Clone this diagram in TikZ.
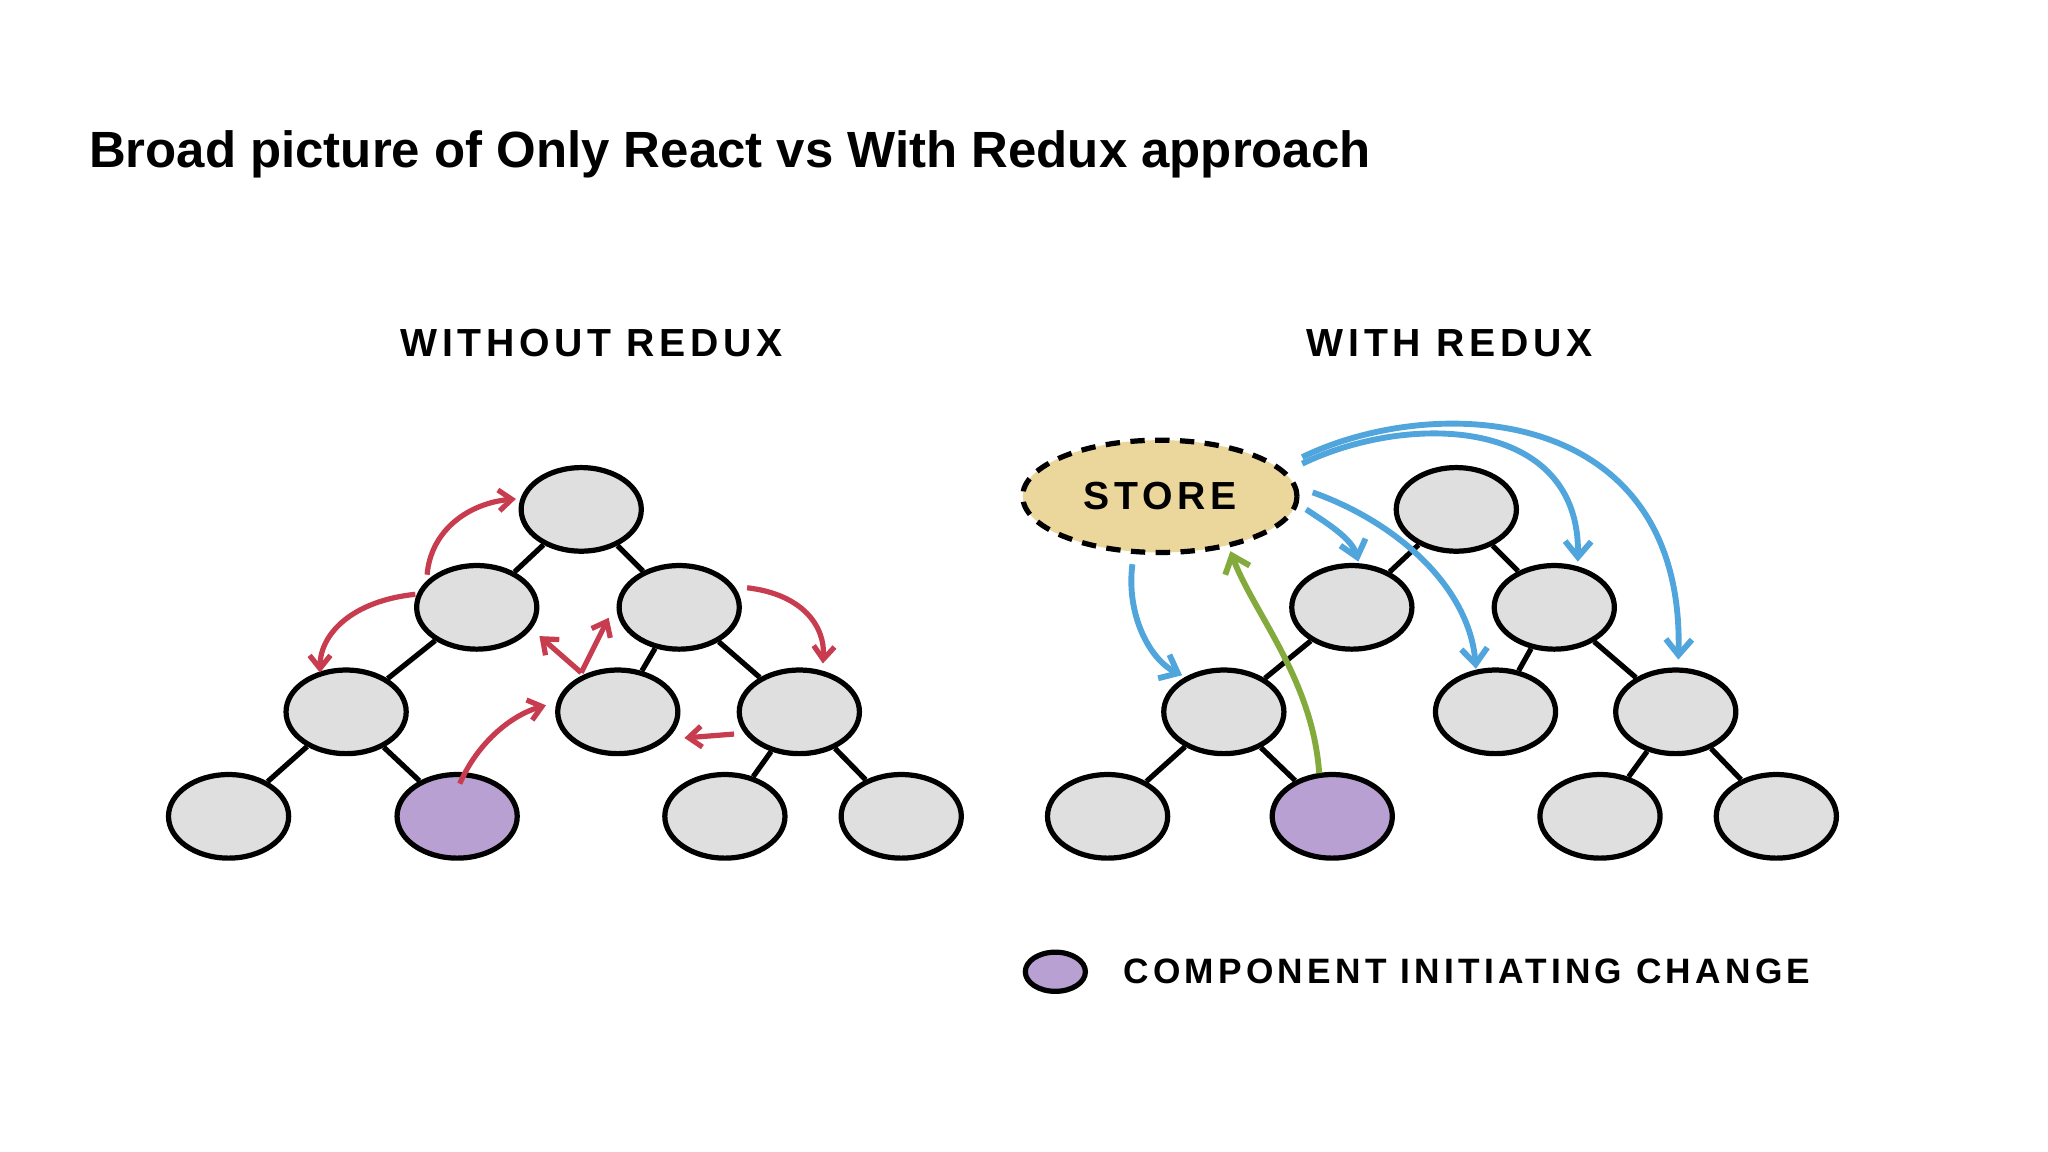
\documentclass[tikz,border=0pt]{standalone}
\usepackage{fontspec}
\setmainfont{Liberation Sans}
\usetikzlibrary{arrows.meta,shapes.geometric}
\definecolor{lav}{RGB}{185,160,210}
\begin{document}
\begin{tikzpicture}[x=1pt,y=-1pt,
 nd/.style={draw=black,line width=4pt,fill=gray!25,ellipse,minimum width=92pt,minimum height=64pt,inner sep=0pt},
 pu/.style={nd,fill=lav},
 ed/.style={line width=4pt},
 ra/.style={draw={rgb,255:red,200;green,60;blue,80},line width=4pt,-{Straight Barb[length=10pt,width=16pt]}},
 ba/.style={draw={rgb,255:red,80;green,165;blue,220},line width=4.5pt,-{Straight Barb[length=12pt,width=20pt]}},
 ga/.style={draw={rgb,255:red,130;green,170;blue,60},line width=4.5pt,-{Straight Barb[length=12pt,width=20pt]}},
 lab/.style={font=\bfseries\fontsize{30}{34}\selectfont\addfontfeature{LetterSpace=12}}]
\useasboundingbox (0,0) rectangle (1568,882);
\node[anchor=base west,inner sep=0pt,font=\bfseries\fontsize{39}{44}\selectfont] (title) at (68,128) {Broad picture of Only React vs With Redux approach};
\node[lab] (t1) at (453,263) {WITHOUT REDUX};
\node[lab] (t2) at (1110,263) {WITH REDUX};
% left tree
\node[nd] (a) at (445,390) {};
\node[nd] (b) at (365,465) {};
\node[nd] (c) at (520,465) {};
\node[nd] (d) at (265,545) {};
\node[nd] (e) at (473,545) {};
\node[nd] (f) at (612,545) {};
\node[nd] (g) at (175,625) {};
\node[pu] (h) at (350,625) {};
\node[nd] (i) at (555,625) {};
\node[nd] (j) at (690,625) {};
\draw[ed] (a) -- (b) (a) -- (c) (b) -- (d) (c) -- (e) (c) -- (f) (d) -- (g) (d) -- (h) (f) -- (i) (f) -- (j);
% right tree
\node[nd] (A) at (1115,390) {};
\node[nd] (B) at (1035,465) {};
\node[nd] (C) at (1190,465) {};
\node[nd] (D) at (937,545) {};
\node[nd] (E) at (1145,545) {};
\node[nd] (F) at (1283,545) {};
\node[nd] (G) at (848,625) {};
\node[pu] (H) at (1020,625) {};
\node[nd] (I) at (1225,625) {};
\node[nd] (J) at (1360,625) {};
\draw[ed] (A) -- (B) (A) -- (C) (B) -- (D) (C) -- (E) (C) -- (F) (D) -- (G) (D) -- (H) (F) -- (I) (F) -- (J);
% store
\node[ellipse,draw=black,dash pattern=on 11pt off 8pt,line width=4pt,fill={rgb,255:red,235;green,215;blue,155},minimum width=210pt,minimum height=86pt,lab] (S) at (888,380) {STORE};
% red arrows
\coordinate (r1) at (327,440); \coordinate (r1e) at (395,382);
\draw[ra] (r1) .. controls (330,405) and (360,385) .. (r1e);
\coordinate (r2) at (318,455); \coordinate (r2e) at (245,515);
\draw[ra] (r2) .. controls (270,460) and (245,485) .. (r2e);
\coordinate (r3) at (572,450); \coordinate (r3e) at (630,508);
\draw[ra] (r3) .. controls (615,455) and (632,480) .. (r3e);
\coordinate (r4) at (445,515); \coordinate (r4a) at (413,487); \coordinate (r4b) at (466,473);
\draw[ra] (r4) -- (r4a); \draw[ra] (r4) -- (r4b);
\coordinate (r5) at (352,600); \coordinate (r5e) at (418,540);
\draw[ra] (r5) .. controls (365,570) and (390,548) .. (r5e);
\coordinate (r6) at (562,562); \coordinate (r6e) at (524,565);
\draw[ra] (r6) -- (r6e);
% blue arrows
\coordinate (b1) at (867,432); \coordinate (b1e) at (905,517);
\draw[ba] (b1) .. controls (862,470) and (880,505) .. (b1e);
\coordinate (b2) at (1000,390); \coordinate (b2e) at (1040,430);
\draw[ba] (b2) .. controls (1015,400) and (1035,412) .. (b2e);
\coordinate (b3) at (1005,377); \coordinate (b3e) at (1130,512);
\draw[ba] (b3) .. controls (1070,400) and (1125,450) .. (b3e);
\coordinate (b4) at (997,355); \coordinate (b4e) at (1208,430);
\draw[ba] (b4) .. controls (1080,315) and (1210,320) .. (b4e);
\coordinate (b5) at (997,350); \coordinate (b5e) at (1285,505);
\draw[ba] (b5) .. controls (1100,300) and (1290,310) .. (b5e);
% green
\coordinate (g1) at (1010,592); \coordinate (g1e) at (942,422);
\draw[ga] (g1) .. controls (1005,520) and (960,470) .. (g1e);
% legend
\node[pu,minimum width=46pt,minimum height=30pt] (L) at (808,744) {};
\node[anchor=west,inner sep=0pt,font=\bfseries\fontsize{27}{30}\selectfont\addfontfeature{LetterSpace=12}] (Lt) at (860,744) {COMPONENT INITIATING CHANGE};
\end{tikzpicture}
\end{document}
